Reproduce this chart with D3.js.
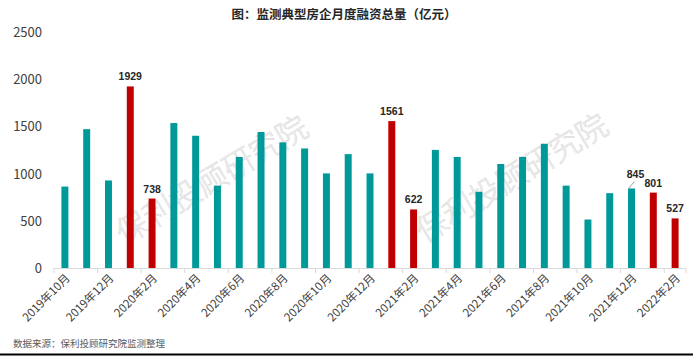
<!DOCTYPE html>
<html><head><meta charset="utf-8">
<script src="https://cdn.jsdelivr.net/npm/d3@7"></script>
<style>
html,body{margin:0;padding:0;background:#fff;}
text{font-family:"Noto Sans CJK SC","Liberation Sans",sans-serif;}
</style></head>
<body>
<svg id="c" width="693" height="356"></svg>
<script>
const categories = ["2019年10月","2019年11月","2019年12月","2020年1月","2020年2月","2020年3月","2020年4月","2020年5月","2020年6月","2020年7月","2020年8月","2020年9月","2020年10月","2020年11月","2020年12月","2021年1月","2021年2月","2021年3月","2021年4月","2021年5月","2021年6月","2021年7月","2021年8月","2021年9月","2021年10月","2021年11月","2021年12月","2022年1月","2022年2月"];
const values = [865,1475,930,1929,738,1540,1405,875,1180,1445,1335,1270,1005,1210,1005,1561,622,1255,1180,810,1105,1180,1320,875,515,795,845,801,527];
const highlighted = ["2020年1月","2020年2月","2021年1月","2021年2月","2022年1月","2022年2月"];
const labelled = ["2020年1月","2020年2月","2021年1月","2021年2月","2021年12月","2022年1月","2022年2月"];
const yTicks = [0,500,1000,1500,2000,2500];
const title = "图：监测典型房企月度融资总量（亿元）";
const source = "数据来源：保利投顾研究院监测整理";
const watermark = "保利投顾研究院";

const svg = d3.select("#c");
const x = d3.scaleBand().domain(categories).range([54,686]).paddingInner(0.68).paddingOuter(0.34);
const y = d3.scaleLinear().domain([0,2500]).range([268,32.7]);

svg.append("text").attr("x",344).attr("y",19).attr("text-anchor","middle")
  .attr("font-size",12.5).attr("font-weight","bold").attr("fill","#262626").text(title);

[[212,180],[512,178]].forEach(([cx,cy])=>{
  svg.append("text").attr("transform",`translate(${cx},${cy}) rotate(-31)`)
    .attr("text-anchor","middle").attr("dy","0.35em")
    .attr("font-size",31).attr("font-weight",300).attr("fill","#f3f3f3").attr("stroke","#dedede").attr("stroke-width",0.7)
    .text(watermark);
});

const yAxis = d3.axisLeft(y).tickValues(yTicks).tickFormat(d3.format("d")).tickSize(0).tickPadding(0);
const yg = svg.append("g").attr("transform","translate(42,0)").call(yAxis);
yg.select(".domain").remove();
yg.selectAll("text").attr("font-size",13).attr("fill","#404040")
  .style("font-family","'Noto Sans CJK SC',sans-serif");

svg.append("g").selectAll("rect").data(categories).join("rect")
  .attr("x",d=>x(d)).attr("width",x.bandwidth())
  .attr("y",(d,i)=>y(values[i])).attr("height",(d,i)=>y(0)-y(values[i]))
  .attr("fill",d=>highlighted.includes(d)?"#C00000":"#009999");

const xAxis = d3.axisBottom(x).tickValues(categories.filter((d,i)=>i%2===0)).tickSize(0).tickPadding(0);
const xg = svg.append("g").attr("transform","translate(0,268)").call(xAxis);
xg.select(".domain").attr("stroke","#d9d9d9").attr("d","M54,0.5H686");
xg.selectAll(".tick text").remove();
xg.selectAll(".tick").append("text")
  .attr("transform","translate(3,8) rotate(-45)")
  .attr("x",0).attr("y",0).attr("dy","0.35em")
  .attr("text-anchor","end")
  .attr("font-size",11.5).attr("fill","#404040")
  .style("font-family","'Noto Sans CJK SC',sans-serif")
  .text(d=>d);
const step = x.step();
const bounds = d3.range(0,categories.length+1,2).map(i=>54+i*step).concat([686]);
xg.selectAll(".bt").data(bounds).join("line").attr("class","bt")
  .attr("x1",d=>d).attr("x2",d=>d).attr("y1",0).attr("y2",5)
  .attr("stroke","#d9d9d9");

const lab = svg.append("g");
categories.forEach((c,i)=>{
  if(!labelled.includes(c)) return;
  let cx = x(c)+x.bandwidth()/2, cy = y(values[i])-6;
  if(c==="2021年12月"){
    lab.append("line").attr("x1",cx-3).attr("y1",y(values[i])).attr("x2",cx+3).attr("y2",y(values[i])-7)
      .attr("stroke","#7f7f7f").attr("stroke-width",0.8);
    cx += 4; cy -= 4;
  }
  lab.append("text").attr("x",cx).attr("y",cy).attr("text-anchor","middle")
    .attr("font-size",10.5).attr("font-weight","bold").attr("fill","#262626")
    .style("font-family","'Liberation Sans',sans-serif").text(values[i]);
});

svg.append("text").attr("x",13).attr("y",347).attr("font-size",9.5).attr("fill","#595959").text(source);
svg.append("line").attr("x1",0).attr("x2",693).attr("y1",354.5).attr("y2",354.5).attr("stroke","#000").attr("stroke-width",2);
</script>
</body></html>
